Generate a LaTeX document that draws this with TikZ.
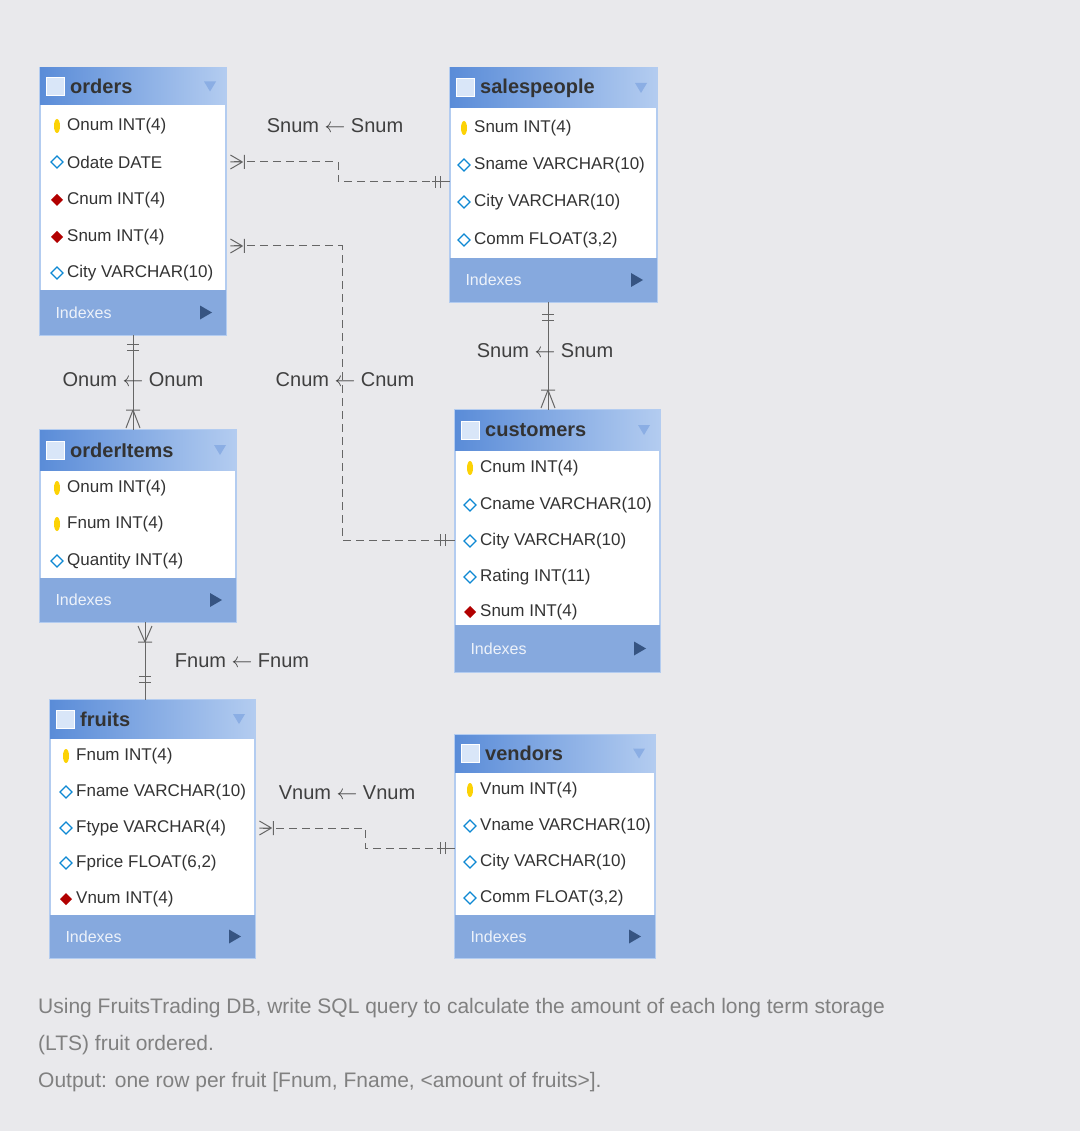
\documentclass[tikz,border=0pt]{standalone}
\usepackage{fontspec}
\setmainfont{Liberation Sans}
\usetikzlibrary{arrows.meta}
\definecolor{hdrA}{HTML}{5A8CD8}
\definecolor{hdrB}{HTML}{B3CCF0}
\definecolor{idx}{HTML}{86A9DE}
\definecolor{bg}{HTML}{E9E9EC}
\tikzset{
  tbl/.style={draw=hdrB,line width=1.5pt,fill=white},
  hdr/.style={left color=hdrA,right color=hdrB},
  rowtxt/.style={anchor=west,font=\fontsize{17}{17}\selectfont,text=black!80,inner sep=0},
  ttl/.style={anchor=west,font=\bfseries\fontsize{20}{20}\selectfont,text=black!80,inner sep=0},
  lbl/.style={font=\fontsize{20}{20}\selectfont,text=black!75,inner sep=1},
  rel/.style={draw=black!60,line width=1pt,dash pattern=on 8pt off 5pt},
  crow/.style={draw=black!60,line width=1pt},
}
\newcommand\ertable[8]{%
  \fill[tbl] (#2,#3) rectangle ++(#4,#7);
  \fill[hdr] (#2,#3) rectangle ++(#4,#5);
  \fill[idx] (#2,#3+#7-#8) rectangle ++(#4,#8);
  \node[anchor=north west,minimum width=#4,minimum height=#7,inner sep=0] (#1) at (#2,#3) {};
  \draw[white,line width=1pt,fill=hdrB!50] (#2+6,#3+#5/2-9) rectangle ++(18,18);
  \node[ttl] (#1t) at (#2+30,#3+#5/2) {#6};
  \fill[hdrA!70] (#2+#4-22,#3+#5/2-5) -- ++(12,0) -- ++(-6,10) -- cycle;
  \node[anchor=west,text=white!85!idx,font=\fontsize{16}{16}\selectfont] (#1i) at (#2+12,#3+#7-#8/2) {Indexes};
  \fill[hdrA!60!black] (#2+#4-26,#3+#7-#8/2-7) -- ++(12,7) -- ++(-12,7) -- cycle;
}
\newcommand\ikey[2]{\fill[yellow!70!orange] (#1,#2) ellipse (3 and 7);}
\newcommand\idia[2]{\draw[cyan!70!blue,fill=white,line width=1.2pt] (#1-6,#2) -- (#1,#2+6) -- (#1+6,#2) -- (#1,#2-6) -- cycle;}
\newcommand\ifk[2]{\fill[red!70!black] (#1-6,#2) -- (#1,#2+6) -- (#1+6,#2) -- (#1,#2-6) -- cycle;}
\newcommand\row[4]{#1{#2}{#3}\node[rowtxt] at (#2+10,#3) {#4};}
\begin{document}
\begin{tikzpicture}[x=1pt,y=-1pt]
\useasboundingbox (0,0) rectangle (1080,1131);
\fill[bg] (0,0) rectangle (1080,1131);
\ertable{orders}{40}{68}{186}{37}{orders}{267}{45}
\row\ikey{57}{126}{Onum INT(4)}
\row\idia{57}{162}{Odate DATE}
\row\ifk{57}{200}{Cnum INT(4)}
\row\ifk{57}{237}{Snum INT(4)}
\row\idia{57}{273}{City VARCHAR(10)}
\ertable{sales}{450}{68}{207}{40}{salespeople}{234}{44}
\row\ikey{464}{128}{Snum INT(4)}
\row\idia{464}{165}{Sname VARCHAR(10)}
\row\idia{464}{202}{City VARCHAR(10)}
\row\idia{464}{240}{Comm FLOAT(3,2)}
\ertable{items}{40}{430}{196}{40}{orderItems}{192}{44}
\row\ikey{57}{488}{Onum INT(4)}
\row\ikey{57}{524}{Fnum INT(4)}
\row\idia{57}{561}{Quantity INT(4)}
\ertable{cust}{455}{410}{205}{40}{customers}{262}{47}
\row\ikey{470}{468}{Cnum INT(4)}
\row\idia{470}{505}{Cname VARCHAR(10)}
\row\idia{470}{541}{City VARCHAR(10)}
\row\idia{470}{577}{Rating INT(11)}
\row\ifk{470}{612}{Snum INT(4)}
\ertable{fruits}{50}{700}{205}{38}{fruits}{258}{43}
\row\ikey{66}{756}{Fnum INT(4)}
\row\idia{66}{792}{Fname VARCHAR(10)}
\row\idia{66}{828}{Ftype VARCHAR(4)}
\row\idia{66}{863}{Fprice FLOAT(6,2)}
\row\ifk{66}{899}{Vnum INT(4)}
\ertable{vend}{455}{735}{200}{37}{vendors}{223}{43}
\row\ikey{470}{790}{Vnum INT(4)}
\row\idia{470}{826}{Vname VARCHAR(10)}
\row\idia{470}{862}{City VARCHAR(10)}
\row\idia{470}{898}{Comm FLOAT(3,2)}
\coordinate (o1) at (orders.east |- 0,162);
\coordinate (s1) at (sales.west |- 0,182);
\coordinate (o2) at (orders.east |- 0,246);
\coordinate (c2) at (cust.west |- 0,540);
\coordinate (f1) at (fruits.east |- 0,828);
\coordinate (v1) at (vend.west |- 0,848);
\draw[rel] ([xshift=8]o1) -| (338,182) -- ([xshift=-8]s1);
\draw[rel] ([xshift=8]o2) -| (342,540) -- ([xshift=-8]c2);
\draw[rel] ([xshift=8]f1) -| (365,848) -- ([xshift=-8]v1);
\draw[crow] (orders.south -| 133,0) -- (items.north -| 133,0);
\draw[crow] (sales.south -| 548,0) -- (cust.north -| 548,0);
\draw[crow] (items.south -| 145,0) -- (fruits.north -| 145,0);
\foreach \p in {o1,o2,f1}{
  \draw[crow] ([xshift=16]\p) -- ([xshift=4,yshift=-7]\p) ([xshift=16]\p) -- ([xshift=4,yshift=7]\p)
   ([xshift=16]\p) -- ([xshift=4]\p) ([xshift=18,yshift=-7]\p) -- ([xshift=18,yshift=7]\p);}
\foreach \p in {s1,c2,v1}{
  \draw[crow] ([xshift=-10,yshift=-6]\p) -- ([xshift=-10,yshift=6]\p) ([xshift=-15,yshift=-6]\p) -- ([xshift=-15,yshift=6]\p) ([xshift=-18]\p)--(\p);}
\draw[crow] (127,344) -- (139,344) (127,350) -- (139,350);
\draw[crow] (542,314) -- (554,314) (542,320) -- (554,320);
\draw[crow] (139,676) -- (151,676) (139,682) -- (151,682);
\draw[crow] (133,410) -- (126,428) (133,410) -- (140,428) (126,410) -- (140,410);
\draw[crow] (548,390) -- (541,408) (548,390) -- (555,408) (541,390) -- (555,390);
\draw[crow] (145,642) -- (138,626) (145,642) -- (152,626) (138,642) -- (152,642);
\node[lbl] (l1) at (335,126) {Snum $\leftarrow$ Snum};
\node[lbl] (l2) at (545,351) {Snum $\leftarrow$ Snum};
\node[lbl] (l3) at (133,380) {Onum $\leftarrow$ Onum};
\node[lbl] (l4) at (345,380) {Cnum $\leftarrow$ Cnum};
\node[lbl] (l5) at (242,661) {Fnum $\leftarrow$ Fnum};
\node[lbl] (l6) at (347,793) {Vnum $\leftarrow$ Vnum};
\node[anchor=west,text=black!50,font=\fontsize{21}{21}\selectfont,inner sep=0] (q1) at (38,1008) {Using FruitsTrading DB, write SQL query to calculate the amount of each long term storage};
\node[anchor=west,text=black!50,font=\fontsize{21}{21}\selectfont,inner sep=0] (q2) at (38,1045) {(LTS) fruit ordered.};
\node[anchor=west,text=black!50,font=\fontsize{21}{21}\selectfont,inner sep=0] (q3) at (38,1082) {Output: one row per fruit [Fnum, Fname, <amount of fruits>].};
\end{tikzpicture}
\end{document}
